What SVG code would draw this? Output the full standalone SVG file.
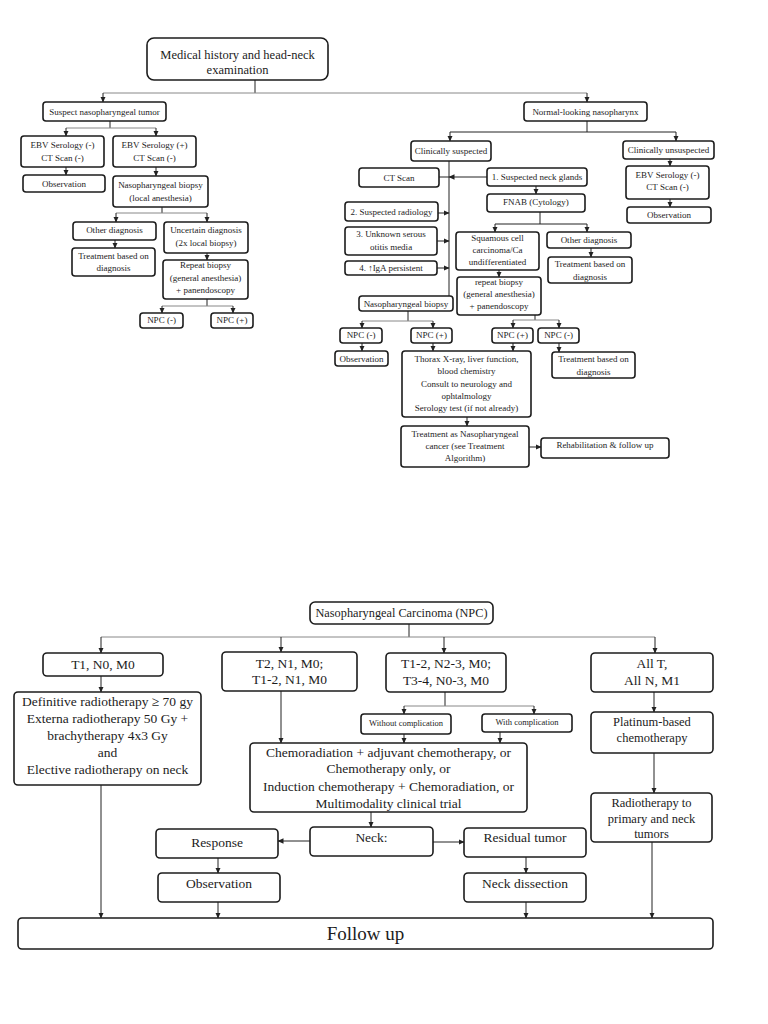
<svg xmlns="http://www.w3.org/2000/svg" width="768" height="1024" viewBox="0 0 768 1024">
<style>
.b{fill:#fff;stroke:#1c1c1c;stroke-width:1.6}
.t{font-family:"Liberation Serif","Times New Roman",serif;fill:#1c1c1c;text-anchor:middle}
.s9{font-size:9px}.s8{font-size:8.5px}.s12{font-size:12.5px}.s13{font-size:13.5px}.s19{font-size:19px}
.c{stroke:#222;stroke-width:1;fill:none}
.ca{stroke:#222;stroke-width:1;fill:none;marker-end:url(#a)}
.g{stroke:#888}
</style>
<defs>
<marker id="a" markerWidth="6" markerHeight="6" refX="5.5" refY="3" orient="auto" markerUnits="userSpaceOnUse"><path d="M0,0.3 L6,3 L0,5.7 z" fill="#222"/></marker>
</defs>
<rect width="768" height="1024" fill="#fff"/>
<g id="connectors">
<path class="c" d="M255,80 V93"/><path class="c g" d="M103,93 H587"/>
<path class="ca" d="M103,93 V102"/><path class="ca" d="M587,93 V102"/>
<path class="c" d="M110,121 V128"/><path class="c g" d="M66,128 H156"/>
<path class="ca" d="M66,128 V136"/><path class="ca" d="M156,128 V136"/>
<path class="ca" d="M66,167 V175"/><path class="ca" d="M156,167 V176"/>
<path class="c" d="M162,207 V213"/><path class="c g" d="M116,213 H207"/>
<path class="ca" d="M116,213 V222"/><path class="ca" d="M207,213 V222"/>
<path class="ca" d="M115,240 V248"/><path class="ca" d="M207,253 V260"/>
<path class="c" d="M207,299 V306"/><path class="c g" d="M162,306 H233"/>
<path class="ca" d="M162,306 V313"/><path class="ca" d="M233,306 V313"/>
<path class="c" d="M587,121 V132"/><path class="c" d="M450,132 H676"/>
<path class="ca" d="M450,132 V141"/><path class="ca" d="M676,132 V141"/>
<path class="ca" d="M670,159 V166"/><path class="ca" d="M670,199 V207"/>
<path class="c" d="M449,161 V296"/>
<path class="ca" d="M487,177 H449"/><path class="c" d="M449,177 H439"/>
<path class="ca" d="M438,213 H449"/><path class="ca" d="M437,241 H449"/><path class="ca" d="M437,268 H449"/>
<path class="c" d="M408,311 V321"/><path class="c g" d="M362,321 H433"/>
<path class="ca" d="M362,321 V328"/><path class="ca" d="M433,321 V328"/>
<path class="ca" d="M362,343 V351"/><path class="ca" d="M433,343 V351"/>
<path class="ca" d="M467,417 V426"/><path class="ca" d="M529,447 H541"/>
<path class="ca" d="M536,186 V194"/>
<path class="c" d="M540,212 V224"/><path class="c" d="M495,224 H587"/>
<path class="ca" d="M495,224 V232"/><path class="ca" d="M587,224 V232"/>
<path class="ca" d="M591,248 V257"/><path class="ca" d="M499,270 V277"/>
<path class="c" d="M535,315 V320"/><path class="c g" d="M513,320 H559"/>
<path class="ca" d="M513,320 V328"/><path class="ca" d="M559,320 V328"/>
<path class="ca" d="M513,343 V351"/><path class="ca" d="M559,343 V352"/>
<path class="c" d="M409,624 V637"/><path class="c g" d="M101,637 H655"/>
<path class="ca" d="M101,637 V653"/><path class="ca" d="M281,637 V652"/><path class="ca" d="M444,637 V653"/><path class="ca" d="M655,637 V653"/>
<path class="ca" d="M101,676 V692"/><path class="ca" d="M281,691 V743"/>
<path class="c" d="M445,692 V706"/><path class="c g" d="M404,706 H534"/>
<path class="ca" d="M404,706 V714"/><path class="ca" d="M534,706 V714"/>
<path class="ca" d="M404,734 V743"/><path class="ca" d="M500,732 V743"/>
<path class="ca" d="M654,692 V712"/><path class="ca" d="M654,753 V793"/>
<path class="ca" d="M371,812 V827"/>
<path class="ca" d="M310,841 H278"/><path class="ca" d="M433,842 H464"/>
<path class="ca" d="M218,858 V873"/><path class="ca" d="M526,857 V873"/>
<path class="ca" d="M101,785 V918"/><path class="ca" d="M218,902 V918"/><path class="ca" d="M526,902 V918"/><path class="ca" d="M652,842 V918"/>
</g>
<g id="n1"><rect class="b" x="147" y="38" width="181" height="42" rx="7"/><text class="t s12" x="237.5" y="59">Medical history and head-neck</text><text class="t s12" x="237.5" y="74">examination</text></g>
<g id="n2"><rect class="b" x="43" y="102" width="123" height="19" rx="3"/><text class="t s9" x="104.5" y="114.5">Suspect nasopharyngeal tumor</text></g>
<g id="n3"><rect class="b" x="21" y="136" width="83" height="31" rx="3"/><text class="t s9" x="62.5" y="148">EBV Serology (-)</text><text class="t s9" x="62.5" y="161">CT Scan (-)</text></g>
<g id="n4"><rect class="b" x="113" y="136" width="83" height="31" rx="3"/><text class="t s9" x="154.5" y="148">EBV Serology (+)</text><text class="t s9" x="154.5" y="161">CT Scan (-)</text></g>
<g id="n5"><rect class="b" x="23" y="175" width="82" height="17" rx="3"/><text class="t s9" x="64" y="186.5">Observation</text></g>
<g id="n6"><rect class="b" x="113" y="176" width="95" height="31" rx="3"/><text class="t s9" x="160.5" y="188">Nasopharyngeal biopsy</text><text class="t s9" x="160.5" y="201">(local anesthesia)</text></g>
<g id="n7"><rect class="b" x="73" y="222" width="83" height="18" rx="3"/><text class="t s9" x="114.5" y="233">Other diagnosis</text></g>
<g id="n8"><rect class="b" x="164" y="222" width="84" height="31" rx="3"/><text class="t s9" x="206" y="233">Uncertain diagnosis</text><text class="t s9" x="206" y="246">(2x local biopsy)</text></g>
<g id="n9"><rect class="b" x="72" y="248" width="83" height="28" rx="3"/><text class="t s9" x="113.5" y="259">Treatment based on</text><text class="t s9" x="113.5" y="271">diagnosis</text></g>
<g id="n10"><rect class="b" x="163" y="260" width="85" height="39" rx="3"/><text class="t s9" x="205.5" y="268">Repeat biopsy</text><text class="t s9" x="205.5" y="281">(general anesthesia)</text><text class="t s9" x="205.5" y="293">+ panendoscopy</text></g>
<g id="n11"><rect class="b" x="140" y="313" width="43" height="15" rx="3"/><text class="t s9" x="161.5" y="323">NPC (-)</text></g>
<g id="n12"><rect class="b" x="211" y="313" width="42" height="15" rx="3"/><text class="t s9" x="232" y="323">NPC (+)</text></g>
<g id="n13"><rect class="b" x="524" y="102" width="123" height="19" rx="3"/><text class="t s9" x="585.5" y="114.5">Normal-looking nasopharynx</text></g>
<g id="n14"><rect class="b" x="411" y="141" width="80" height="20" rx="3"/><text class="t s9" x="451" y="154">Clinically suspected</text></g>
<g id="n15"><rect class="b" x="623" y="141" width="91" height="18" rx="3"/><text class="t s9" x="668.5" y="153">Clinically unsuspected</text></g>
<g id="n16"><rect class="b" x="626" y="166" width="83" height="33" rx="3"/><text class="t s9" x="667.5" y="178">EBV Serology (-)</text><text class="t s9" x="667.5" y="190">CT Scan (-)</text></g>
<g id="n17"><rect class="b" x="627" y="207" width="84" height="16" rx="3"/><text class="t s9" x="669" y="218">Observation</text></g>
<g id="n18"><rect class="b" x="359" y="168" width="80" height="19" rx="3"/><text class="t s9" x="399" y="180.5">CT Scan</text></g>
<g id="n19"><rect class="b" x="487" y="168" width="100" height="18" rx="3"/><text class="t s9" x="537" y="180">1. Suspected neck glands</text></g>
<g id="n20"><rect class="b" x="345" y="202" width="93" height="19" rx="3"/><text class="t s9" x="391.5" y="215">2. Suspected radiology</text></g>
<g id="n21"><rect class="b" x="345" y="227" width="92" height="28" rx="3"/><text class="t s9" x="391" y="237">3. Unknown serous</text><text class="t s9" x="391" y="250">otitis media</text></g>
<g id="n22"><rect class="b" x="345" y="261" width="92" height="14" rx="3"/><text class="t s9" x="391" y="271">4. ↑IgA persistent</text></g>
<g id="n23"><rect class="b" x="359" y="296" width="94" height="15" rx="3"/><text class="t s9" x="406" y="306.5">Nasopharyngeal biopsy</text></g>
<g id="n24"><rect class="b" x="340" y="328" width="42" height="15" rx="3"/><text class="t s9" x="361" y="338">NPC (-)</text></g>
<g id="n25"><rect class="b" x="411" y="328" width="41" height="15" rx="3"/><text class="t s9" x="431.5" y="338">NPC (+)</text></g>
<g id="n26"><rect class="b" x="335" y="351" width="53" height="15" rx="3"/><text class="t s9" x="361.5" y="361.5">Observation</text></g>
<g id="n27"><rect class="b" x="402" y="351" width="129" height="66" rx="3"/><text class="t s9" x="466.5" y="362">Thorax X-ray, liver function,</text><text class="t s9" x="466.5" y="374">blood chemistry</text><text class="t s9" x="466.5" y="387">Consult to neurology and</text><text class="t s9" x="466.5" y="399">ophtalmology</text><text class="t s9" x="466.5" y="411">Serology test (if not already)</text></g>
<g id="n28"><rect class="b" x="401" y="426" width="128" height="41" rx="3"/><text class="t s9" x="465" y="437">Treatment as Nasopharyngeal</text><text class="t s9" x="465" y="449">cancer (see Treatment</text><text class="t s9" x="465" y="461">Algorithm)</text></g>
<g id="n29"><rect class="b" x="541" y="438" width="128" height="20" rx="3"/><text class="t s9" x="605" y="448">Rehabilitation &amp; follow up</text></g>
<g id="n30"><rect class="b" x="487" y="194" width="98" height="18" rx="3"/><text class="t s9" x="536" y="205">FNAB (Cytology)</text></g>
<g id="n31"><rect class="b" x="456" y="232" width="83" height="38" rx="3"/><text class="t s9" x="497.5" y="241">Squamous cell</text><text class="t s9" x="497.5" y="253">carcinoma/Ca</text><text class="t s9" x="497.5" y="265">undifferentiated</text></g>
<g id="n32"><rect class="b" x="547" y="232" width="84" height="16" rx="3"/><text class="t s9" x="589" y="242.5">Other diagnosis</text></g>
<g id="n33"><rect class="b" x="548" y="257" width="84" height="26" rx="3"/><text class="t s9" x="590" y="267">Treatment based on</text><text class="t s9" x="590" y="280">diagnosis</text></g>
<g id="n34"><rect class="b" x="457" y="277" width="84" height="38" rx="3"/><text class="t s9" x="499" y="285">repeat biopsy</text><text class="t s9" x="499" y="297">(general anesthesia)</text><text class="t s9" x="499" y="309">+ panendoscopy</text></g>
<g id="n35"><rect class="b" x="492" y="328" width="41" height="15" rx="3"/><text class="t s9" x="512.5" y="338">NPC (+)</text></g>
<g id="n36"><rect class="b" x="538" y="328" width="41" height="15" rx="3"/><text class="t s9" x="558.5" y="338">NPC (-)</text></g>
<g id="n37"><rect class="b" x="552" y="352" width="83" height="26" rx="3"/><text class="t s9" x="593.5" y="362">Treatment based on</text><text class="t s9" x="593.5" y="375">diagnosis</text></g>
<g id="n38"><rect class="b" x="310" y="602" width="183" height="22" rx="5"/><text class="t s12" x="401.5" y="617" textLength="172" lengthAdjust="spacingAndGlyphs">Nasopharyngeal Carcinoma (NPC)</text></g>
<g id="n39"><rect class="b" x="43" y="653" width="120" height="23" rx="4"/><text class="t s13" x="103" y="668.5">T1, N0, M0</text></g>
<g id="n40"><rect class="b" x="222" y="652" width="135" height="39" rx="4"/><text class="t s13" x="289.5" y="667.5">T2, N1, M0;</text><text class="t s13" x="289.5" y="683.5">T1-2, N1, M0</text></g>
<g id="n41"><rect class="b" x="386" y="653" width="120" height="39" rx="4"/><text class="t s13" x="446" y="667.5">T1-2, N2-3, M0;</text><text class="t s13" x="446" y="684.5">T3-4, N0-3, M0</text></g>
<g id="n42"><rect class="b" x="591" y="653" width="122" height="39" rx="4"/><text class="t s13" x="652" y="667.5">All T,</text><text class="t s13" x="652" y="684.5">All N, M1</text></g>
<g id="n43"><rect class="b" x="14" y="692" width="187" height="93" rx="4"/><text class="t s13" x="107.5" y="705.5">Definitive radiotherapy ≥ 70 gy</text><text class="t s13" x="107.5" y="722.5">Externa radiotherapy 50 Gy +</text><text class="t s13" x="107.5" y="739.5">brachytherapy 4x3 Gy</text><text class="t s13" x="107.5" y="756.5">and</text><text class="t s13" x="107.5" y="773.5">Elective radiotherapy on neck</text></g>
<g id="n44"><rect class="b" x="361" y="714" width="90" height="20" rx="3"/><text class="t s8" x="406" y="726">Without complication</text></g>
<g id="n45"><rect class="b" x="482" y="714" width="90" height="18" rx="3"/><text class="t s8" x="527" y="725">With complication</text></g>
<g id="n46"><rect class="b" x="250" y="743" width="277" height="69" rx="4"/><text class="t s13" x="388.5" y="756.5">Chemoradiation + adjuvant chemotherapy, or</text><text class="t s13" x="388.5" y="772.5">Chemotherapy only, or</text><text class="t s13" x="388.5" y="790.5">Induction chemotherapy + Chemoradiation, or</text><text class="t s13" x="388.5" y="807.5">Multimodality clinical trial</text></g>
<g id="n47"><rect class="b" x="591" y="712" width="122" height="41" rx="4"/><text class="t s12" x="652" y="726">Platinum-based</text><text class="t s12" x="652" y="742">chemotherapy</text></g>
<g id="n48"><rect class="b" x="591" y="793" width="121" height="49" rx="4"/><text class="t s12" x="651.5" y="807">Radiotherapy to</text><text class="t s12" x="651.5" y="823">primary and neck</text><text class="t s12" x="651.5" y="838">tumors</text></g>
<g id="n49"><rect class="b" x="310" y="827" width="123" height="29" rx="4"/><text class="t s13" x="371.5" y="841.5">Neck:</text></g>
<g id="n50"><rect class="b" x="156" y="829" width="122" height="29" rx="4"/><text class="t s13" x="217" y="846.5">Response</text></g>
<g id="n51"><rect class="b" x="464" y="828" width="122" height="29" rx="4"/><text class="t s13" x="525" y="841.5">Residual tumor</text></g>
<g id="n52"><rect class="b" x="158" y="873" width="122" height="29" rx="4"/><text class="t s13" x="219" y="887.5">Observation</text></g>
<g id="n53"><rect class="b" x="464" y="873" width="122" height="29" rx="4"/><text class="t s13" x="525" y="887.5">Neck dissection</text></g>
<g id="n54"><rect class="b" x="18" y="918" width="695" height="31" rx="4"/><text class="t s19" x="365.5" y="939.5">Follow up</text></g>
</svg>
